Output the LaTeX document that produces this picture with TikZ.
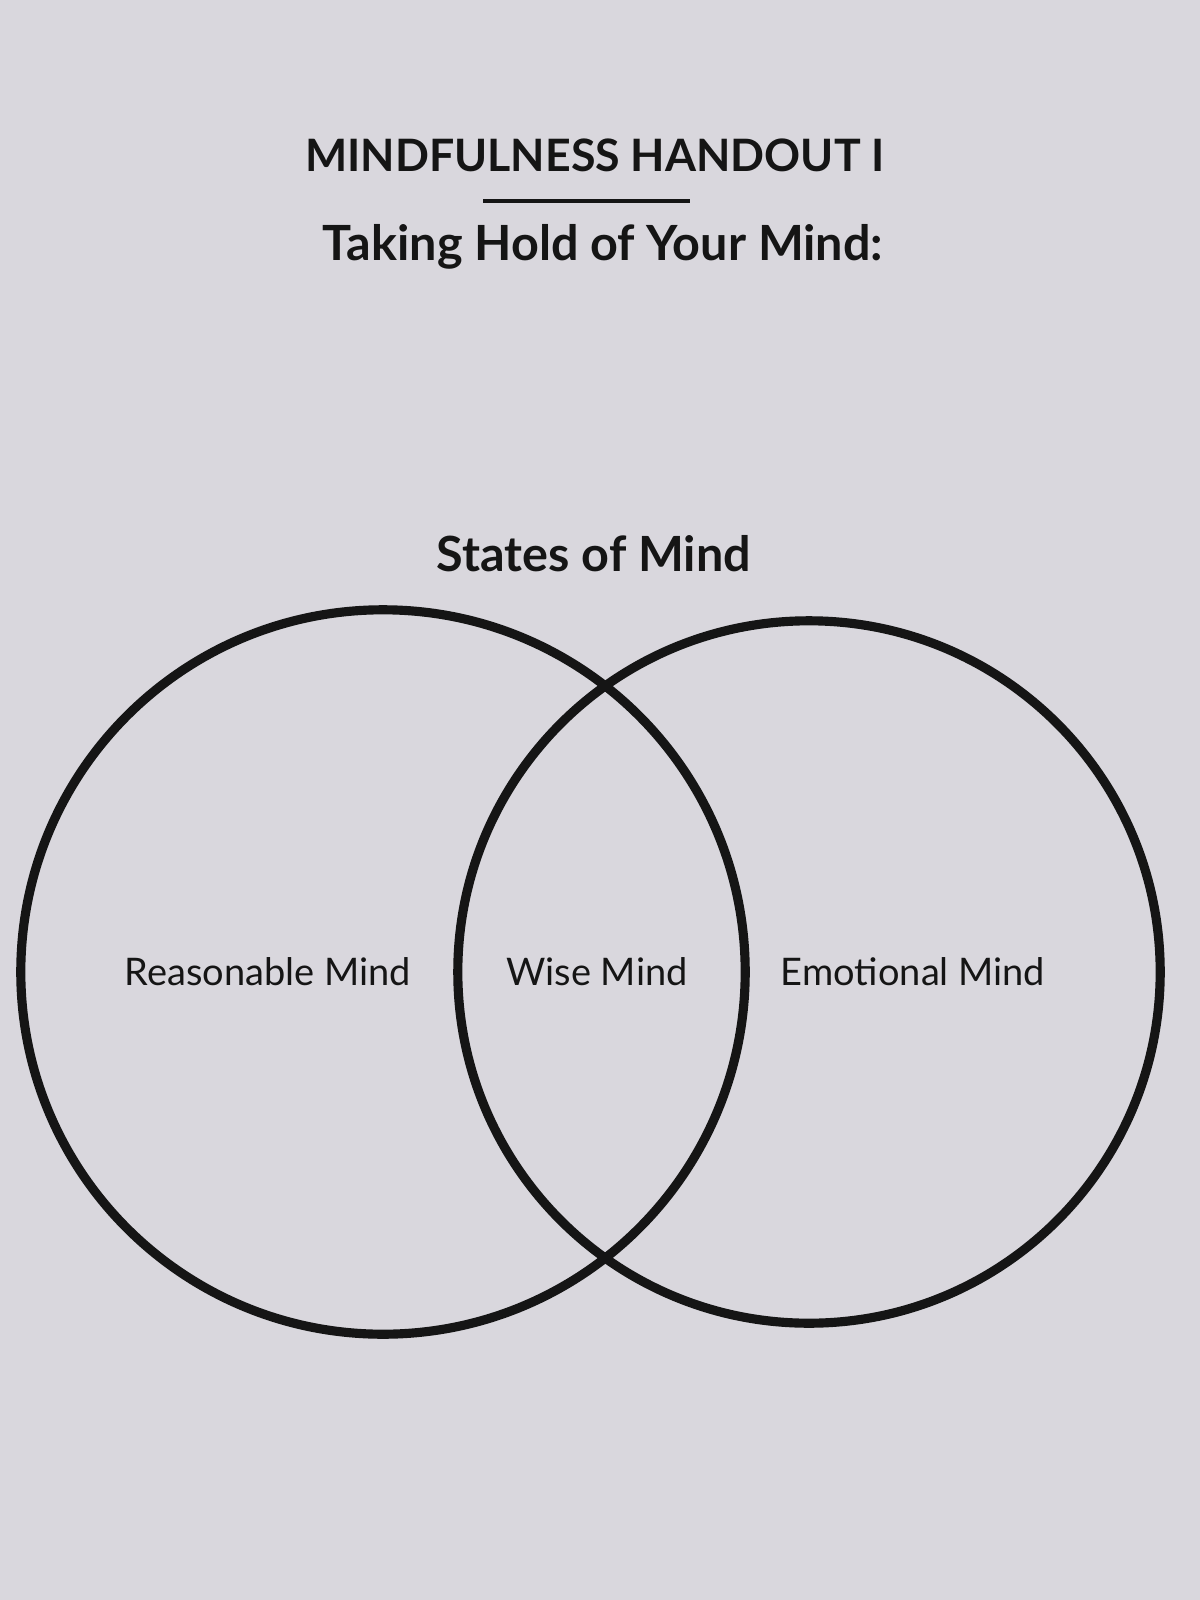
\documentclass[tikz,border=0pt]{standalone}
\usepackage{fontspec}
\setmainfont{Lato}
\definecolor{paper}{HTML}{D9D7DD}
\definecolor{ink}{HTML}{151515}
\begin{document}
\begin{tikzpicture}[x=0.01cm,y=-0.01cm,
  ring/.style={draw=ink,line width=2.6pt},
  lbl/.style={text=ink,font=\fontsize{10.8}{13}\selectfont},
  ttl/.style={text=ink,font=\bfseries\fontsize{12.7}{15}\selectfont},
  ttlb/.style={text=ink,font=\bfseries\fontsize{13.8}{16}\selectfont}]
\fill[paper] (0,0) rectangle (1200,1600);
\useasboundingbox (0,0) rectangle (1200,1600);
\node[ttl] (t1) at (595,155) {MINDFULNESS HANDOUT I};
\draw[ink,line width=1.2pt] (483,201) -- (690,201);
\node[ttlb] (t2) at (603,247) {Taking Hold of Your Mind:};
\node[ttlb] (t3) at (594,554) {States of Mind};
\node[ring,circle,minimum size=7.24cm] (L) at (383,972) {};
\node[ring,circle,minimum size=7.02cm] (R) at (809,972) {};
\node[lbl] (a) at (268,972) {Reasonable Mind};
\node[lbl] (b) at (597,972) {Wise Mind};
\node[lbl] (c) at (913,972) {Emotional Mind};
\end{tikzpicture}
\end{document}
